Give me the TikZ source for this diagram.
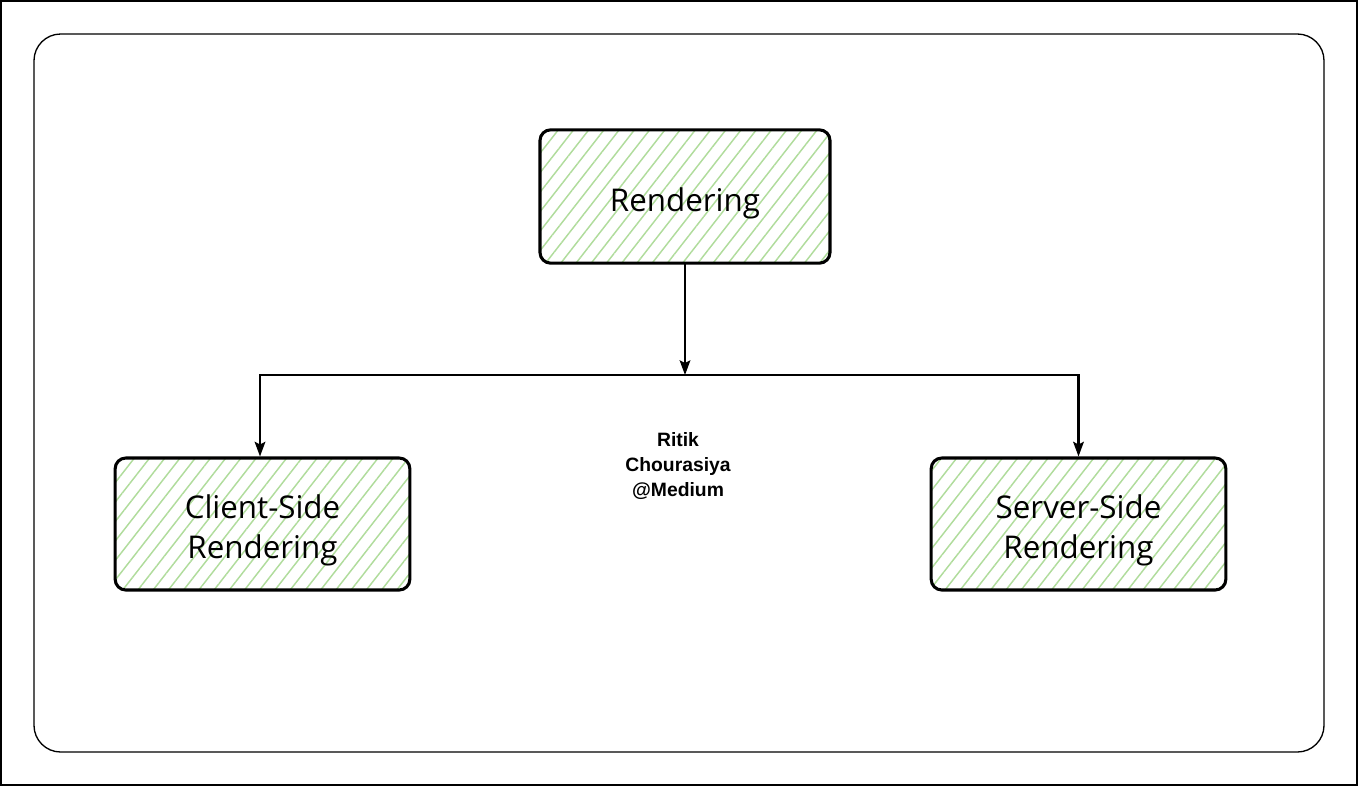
\documentclass[tikz,border=0pt]{standalone}
\usepackage{fontspec}
\setmainfont{Open Sans}
\newfontfamily\credfont{Liberation Sans}
\usetikzlibrary{arrows.meta,patterns.meta}
\definecolor{hatch}{HTML}{B0DC9C}
\tikzset{
  box/.style={draw=black, line width=2.3pt, rounded corners=8pt,
    pattern={Lines[angle=52,distance=9pt,line width=1.1pt]}, pattern color=hatch,
    inner sep=0pt},
  boxtext/.style={align=center, font=\fontsize{23.5}{30}\selectfont, inner sep=0pt, yshift=-5pt},
  arr/.style={draw=black, line width=1.6pt, -{Stealth[length=11pt,width=8pt,inset=2pt]}},
  cred/.style={align=center, font=\credfont\bfseries\fontsize{14.5}{18.5}\selectfont}
}
\begin{document}
\begin{tikzpicture}[x=0.75pt,y=-0.75pt]
\useasboundingbox (0,0) rectangle (1358,786);
\draw[line width=1.5pt] (1,1) rectangle (1357,785);
\draw[line width=1pt, rounded corners=20pt] (34,34) rectangle (1324,752);
\node[box, minimum width=217.5pt, minimum height=100pt] (r) at (685,196.5) {};
\node[box, minimum width=221pt, minimum height=99pt] (c) at (262.5,524) {};
\node[box, minimum width=221pt, minimum height=99pt] (s) at (1078.5,524) {};
\node[boxtext] (rt) at (r.center) {Rendering};
\node[boxtext] (ct) at (c.center) {Client-Side\\Rendering};
\node[boxtext] (st) at (s.center) {Server-Side\\Rendering};
\coordinate (j) at (685,375);
\draw[arr] (r.south) -- (j);
\draw[arr] (j) -| (c.north -| 260,0);
\draw[arr] (j) -| (s.north);
\node[cred] (t) at (678,466) {Ritik\\Chourasiya\\@Medium};
\end{tikzpicture}
\end{document}
